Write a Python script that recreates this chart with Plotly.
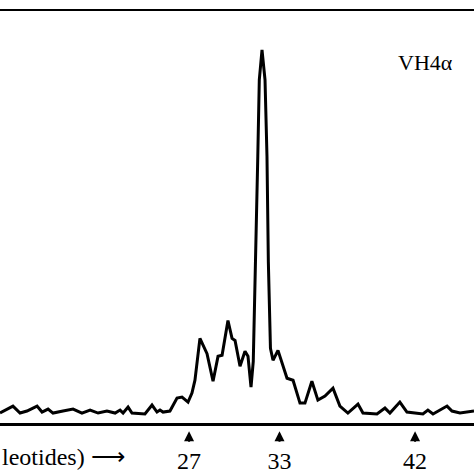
import plotly.graph_objects as go

# trace: size in nucleotides vs relative intensity
size_nt = [14.45, 15.31, 15.78, 16.24, 16.91, 17.24, 17.64, 17.97, 18.63, 19.30,
           19.89, 20.43, 20.96, 21.55, 22.09, 22.42, 22.62, 22.95, 23.21, 23.74,
           24.07, 24.54, 24.87, 25.07, 25.27, 25.73, 26.20, 26.53, 26.93, 27.19,
           27.39, 27.72, 28.19, 28.59, 28.92, 29.19, 29.58, 29.85, 30.05, 30.38,
           30.71, 30.91, 31.11, 31.26, 31.42, 31.56, 31.66, 31.84, 32.04, 32.17,
           32.26, 32.40, 32.57, 32.90, 33.50, 33.90, 34.36, 34.69, 35.15, 35.55,
           36.02, 36.55, 37.01, 37.54, 38.21, 38.54, 39.47, 40.00, 40.33, 40.99,
           41.46, 42.52, 42.85, 43.19, 44.12, 44.45, 44.98, 45.91]
intensity = [2.41, 4.10, 2.41, 2.89, 4.10, 2.65, 3.37, 2.41, 2.89, 3.37,
             2.41, 3.13, 2.41, 2.89, 2.41, 3.13, 2.41, 3.86, 2.41, 2.17,
             2.17, 4.34, 2.65, 3.13, 2.65, 2.89, 6.02, 6.27, 5.06, 7.23,
             10.36, 20.48, 16.8, 10.12, 16.14, 16.39, 24.82, 20.48, 20.0, 13.73,
             17.35, 16.14, 8.67, 14.94, 39.04, 64.58, 83.1, 90.36, 83.1, 64.58,
             39.04, 18.07, 15.18, 17.59, 10.84, 10.36, 4.82, 4.82, 10.12, 5.54,
             6.50, 8.43, 4.10, 2.41, 4.58, 2.41, 2.17, 3.61, 2.41, 5.06,
             2.65, 2.17, 3.13, 2.17, 4.10, 2.89, 2.41, 2.89]

marker_sizes = [27, 33, 42]
marker_labels = ["27", "33", "42"]

serif = "Liberation Serif"

fig = go.Figure()
fig.add_trace(go.Scatter(x=size_nt, y=intensity, mode="lines",
                         line=dict(color="black", width=3),
                         hoverinfo="skip"))

# frame line across the top of the panel
fig.add_shape(type="line", xref="paper", yref="paper", x0=0, x1=1, y0=1, y1=1,
              line=dict(color="black", width=2.2), layer="above")

# little up-arrows under the size markers
for s in marker_sizes:
    fig.add_annotation(x=s, y=-0.02, xref="x", yref="paper", text="",
                       showarrow=True, ax=0, ay=12, arrowhead=2,
                       arrowsize=1, arrowwidth=2, arrowcolor="black")

# the scan is cropped, only the end of the axis title shows
fig.add_annotation(x=0, y=-0.082, xref="paper", yref="paper",
                   text="leotides) ⟶", showarrow=False,
                   xanchor="left", yanchor="middle",
                   font=dict(family=serif, size=24, color="black"))

fig.add_annotation(x=0.897, y=0.872, xref="paper", yref="paper",
                   text="VH4α", showarrow=False,
                   xanchor="center", yanchor="middle",
                   font=dict(family=serif, size=22, color="black"))

fig.update_layout(
    width=474, height=474,
    margin=dict(l=0, r=0, t=10, b=49),
    paper_bgcolor="white", plot_bgcolor="white",
    showlegend=False,
    xaxis=dict(range=[14.45, 45.91], showgrid=False, zeroline=False,
               showline=True, linecolor="black", linewidth=2.5,
               tickvals=marker_sizes, ticktext=marker_labels, ticks="",
               ticklabelstandoff=14,
               tickfont=dict(family=serif, size=24, color="black")),
    yaxis=dict(range=[0, 100], visible=False),
)

# drop the page's default body margin so the figure sits at the corner
fig.write_html("out.html", config={"displayModeBar": False},
               post_script="document.body.style.margin='0';")
